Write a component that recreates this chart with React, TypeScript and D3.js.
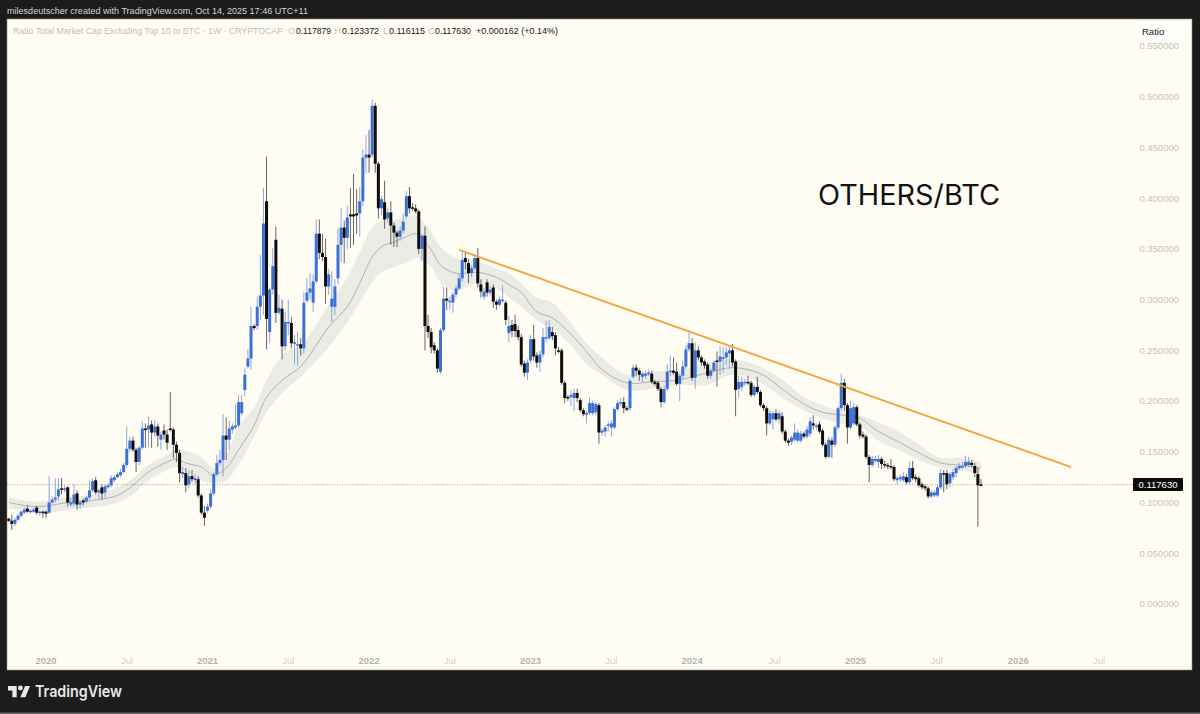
import React from "react";
import * as d3 from "d3";

// All prices are in thousandths of the ratio; one candle per week, index 0 = mid Oct 2019
const opens = [
84,82,79,83,87,90,94,91,91,95, 90,91,91,90,100,103,106,114,113,115,
98,99,109,98,102,101,105,112,122,110, 115,110,115,117,122,125,127,130,137,153,
161,152,140,154,173,172,177,169,175,162, 171,167,173,172,157,149,128,129,118,126,
122,123,107,90,92,96,109,128,139,142, 166,162,172,174,176,188,211,234,242,274,
274,293,304,397,268,310,359,287,291,254, 277,277,257,255,256,252,299,307,297,318,
365,346,342,313,293,293,321,354,371,361, 384,384,385,385,397,440,443,443,491,434,
390,396,380,386,373,366,362,368,382,402, 391,390,387,350,363,274,268,255,250,229,
270,301,298,297,305,311,321,341,336,326, 331,341,315,303,317,307,312,298,295,299,
297,267,275,276,270,263,237,228,240,261, 245,238,246,262,262,268,265,250,250,218,
204,204,203,208,201,191,187,188,188,189, 196,169,170,176,174,174,192,198,199,193,
193,224,233,230,224,225,227,227,219,218, 212,199,212,229,230,229,217,225,234,251,
257,223,250,243,239,236,225,230,240,239, 242,243,247,250,239,212,214,218,219,218,
206,214,209,196,193,178,182,188,182,185, 170,161,160,162,161,161,168,165,168,178,
175,177,171,157,145,161,157,174,193,218, 196,174,178,194,177,167,165,145,137,141,
140,143,138,137,136,135,122,123,122,125, 120,134,125,124,118,116,114,106,107,107,
115,129,129,119,125,129,134,135,136,137, 139,136,128,117.879];
const closes = [
82,79,83,87,91,93,91,92,93,90, 91,90,89,100,103,105,113,113,114,100,
100,108,98,100,100,105,112,121,110,112, 109,116,117,124,125,128,130,137,153,161,
152,140,154,173,172,176,169,175,166,167, 167,159,172,157,149,129,130,117,126,123,
124,107,90,85,96,109,128,139,142,166, 162,173,175,176,199,199,226,242,274,272,
293,304,375,281,310,333,287,292,254,278, 278,257,258,256,252,297,307,311,318,365,
346,342,313,325,301,313,354,371,361,381, 382,382,383,397,440,443,440,491,434,390,
399,379,386,373,366,362,368,377,402,390, 390,387,350,363,274,268,253,250,232,270,
301,299,299,305,311,321,339,337,326,331, 341,316,308,308,307,310,298,295,300,300,
280,274,269,269,263,236,228,238,261,244, 238,246,263,263,273,264,252,249,218,203,
203,206,208,203,191,187,188,198,198,197, 169,171,174,177,178,192,198,199,193,192,
220,233,230,226,227,227,228,219,217,212, 199,212,229,230,228,217,225,234,251,257,
223,250,243,238,235,225,230,238,239,244, 243,248,250,238,211,219,219,219,218,206,
214,209,196,193,178,188,188,182,188,170, 161,159,164,169,169,168,165,172,180,176,
176,170,157,145,162,157,174,193,218,196, 174,193,194,177,166,165,145,137,143,143,
143,138,137,136,135,123,124,125,126,120, 134,124,123,117,115,114,106,110,110,115,
129,128,118,128,130,134,136,136,140,140, 137,129,117,117.63];
const highs = [
85,88,85,89,92,95,97,93,95,97, 92,92,92,126,106,124,124,124,117,116,
105,118,112,102,104,106,122,124,125,114, 118,118,119,127,127,130,133,139,175,165,
165,154,156,180,178,185,181,181,178,170, 177,172,209,174,160,152,135,134,132,132,
128,126,109,97,99,113,130,147,152,187, 184,181,178,197,206,206,233,251,293,276,
303,344,410,441,312,351,372,305,300,288, 300,283,265,268,262,307,321,326,325,379,
379,365,360,330,328,320,370,390,378,393, 410,424,409,411,448,462,467,497,494,436,
402,417,390,397,376,368,372,385,407,411, 395,394,389,365,372,285,272,258,252,272,
313,312,303,307,314,325,347,347,340,334, 345,351,320,312,320,314,315,300,303,314,
299,284,280,285,274,266,240,241,265,275, 248,250,272,279,280,273,268,253,252,220,
206,210,212,212,203,193,190,204,200,199, 198,173,176,180,181,194,201,203,204,195,
222,236,236,232,229,230,231,230,221,220, 214,215,237,245,243,238,227,240,255,270,
262,258,254,245,241,238,232,240,249,254, 253,253,254,256,241,225,224,222,225,220,
216,224,211,198,195,191,190,192,191,189, 172,163,166,178,172,171,170,175,184,186,
178,180,173,159,165,164,176,195,227,222, 198,200,198,196,179,170,167,147,146,146,
147,145,141,139,143,137,126,128,130,128, 140,141,128,126,120,118,116,112,112,117,
133,132,132,130,133,136,139,140,146,145, 142,139,134,123.372];
const lows = [
81,73,77,82,85,89,90,89,90,88, 87,85,85,89,99,100,102,108,110,96,
96,96,93,94,97,99,103,110,108,104, 103,105,113,115,120,124,125,129,135,150,
150,130,137,152,154,155,154,165,155,152, 162,152,170,144,140,120,124,110,114,120,
118,105,88,77,90,94,107,126,137,126, 142,152,168,172,174,186,205,232,231,270,
270,280,285,251,257,305,277,285,241,250, 265,252,236,235,245,247,297,300,288,316,
340,338,296,305,278,285,315,337,336,350, 351,354,365,362,392,425,425,440,425,380,
383,370,376,354,352,352,358,365,380,385, 388,385,345,338,250,262,247,247,228,227,
268,290,290,287,302,309,318,330,316,322, 329,312,302,300,303,304,292,290,293,297,
275,258,263,263,260,234,224,221,238,240, 233,229,243,258,260,260,245,247,216,198,
200,195,190,199,189,185,178,186,186,186, 158,166,165,170,165,172,190,195,188,190,
190,222,225,220,219,222,225,217,215,210, 194,197,210,225,226,215,200,222,232,248,
220,212,240,235,232,222,222,228,214,226, 228,235,232,234,185,204,210,215,216,204,
204,207,194,190,166,176,172,180,178,168, 159,156,157,160,159,159,163,163,165,172,
172,168,155,143,144,144,155,172,190,190, 158,172,176,175,163,163,143,120,135,139,
134,133,134,133,133,121,118,120,120,118, 118,122,120,115,113,112,104,104,105,105,
113,110,113,115,122,125,132,133,134,135, 135,125,76,116.115];

const ribbonIndex = [0,8,13,19,29,35,40,45,51,54,57,62,66,70,74,79,83,89,94,103,109,113,117,120,124,128,131,136,139,144,151,157,161,165,170,175,181,186,191,199,207,216,225,233,242,249,256,262,269,274,280,287,293,300,306,313];
const ribbonUpper = [105,101,102,105,109,115,124,137,147,153,151,145,134,147,175,194,221,248,255,295,322,347,371,377,379,381,383,367,352,341,337,331,326,316,302,297,277,257,243,226,229,231,238,241,234,221,204,196,189,186,179,169,157,144,144,140];
const ribbonMiddle = [100,96,97,100,103,107,117,130,140,143,139,135,127,134,152,176,204,223,234,273,293,316,342,352,357,362,365,349,334,326,327,322,315,307,288,282,266,249,231,218,219,221,228,233,227,212,197,189,186,183,170,159,149,139,137,134];
const ribbonLower = [94,92,90,93,96,100,108,122,132,135,130,122,119,122,137,165,189,211,224,253,278,297,317,327,332,336,341,332,317,309,316,311,302,293,280,271,255,236,226,211,212,216,216,226,218,203,191,183,177,175,161,151,142,134,131,129];

const trendIndex = [145, 342];
const trendValue = [349, 135];

const lastOpen = "0.117879";
const lastHigh = "0.123372";
const lastLow = "0.116115";
const lastClose = "0.117630";
const lastChange = "+0.000162 (+0.14%)";

const yTicks = [550, 500, 450, 400, 350, 300, 250, 200, 150, 100, 50, 0];
const timeLabels = ["2020", "Jul", "2021", "Jul", "2022", "Jul", "2023", "Jul", "2024", "Jul", "2025", "Jul", "2026", "Jul"];
const timeIndex = [12, 38.1, 64, 90, 116, 142, 168, 194, 220, 246.5, 272.6, 298.7, 325, 351];

const UP = "#3b6fd8";
const DOWN = "#0b0b0b";
const PANEL = "#fffdf3";
const SANS = "'Liberation Sans', Arial, sans-serif";

export default function App() {
  const x = d3.scaleLinear().domain([12, 313]).range([46, 981]);
  const y = d3.scaleLinear().domain([0, 550]).range([604, 46]);
  const band = d3.area<number>()
    .x((d) => x(ribbonIndex[d]))
    .y0((d) => y(ribbonLower[d]))
    .y1((d) => y(ribbonUpper[d]))
    .curve(d3.curveCatmullRom);
  const mid = d3.line<number>()
    .x((d) => x(ribbonIndex[d]))
    .y((d) => y(ribbonMiddle[d]))
    .curve(d3.curveCatmullRom);
  const idx = d3.range(ribbonIndex.length);
  const priceY = y(closes[closes.length - 1]);
  return (
    <svg width={1200} height={714} viewBox="0 0 1200 714" style={{ position: "fixed", left: 0, top: 0, display: "block" }} fontFamily={SANS}>
      <defs>
        <clipPath id="plot"><rect x={7} y={19} width={1185} height={651} /></clipPath>
        <filter id="soft" x="-2%" y="-2%" width="104%" height="104%"><feGaussianBlur stdDeviation="0.35" /></filter>
      </defs>
      <rect width={1200} height={714} fill="#1c1c1c" />
      <rect x={0} y={712.5} width={1200} height={1.5} fill="#6a6a6a" />
      <rect x={7} y={19} width={1185} height={651} fill={PANEL} stroke="#8a8a86" strokeWidth={0.6} />
      <text x={7} y={14} fontSize={9.2} fill="#d4d4d4" textLength={301} lengthAdjust="spacingAndGlyphs">milesdeutscher created with TradingView.com, Oct 14, 2025 17:46 UTC+11</text>

      <g clipPath="url(#plot)">
        <g filter="url(#soft)">
          <path d={band(idx) ?? ""} fill="#ebebe5" />
          <path d={mid(idx) ?? ""} fill="none" stroke="#9a9a94" strokeWidth={0.7} />
          <line x1={7} x2={1133} y1={priceY} y2={priceY} stroke="#8f8f85" strokeWidth={0.8} strokeDasharray="1 1.5" />
          {opens.map((o, i) => {
            const c = closes[i];
            const up = c >= o;
            const cx = x(i);
            const top = y(Math.max(o, c));
            const bot = y(Math.min(o, c));
            return (
              <g key={i}>
                <line x1={cx} x2={cx} y1={y(highs[i])} y2={y(lows[i])} stroke={up ? "#7f9bdc" : "#555555"} strokeWidth={0.9} />
                <rect x={cx - 1.5} y={top} width={3} height={Math.max(bot - top, 1.5)} fill={up ? UP : DOWN} />
              </g>
            );
          })}
          <line x1={x(trendIndex[0])} x2={x(trendIndex[1])} y1={y(trendValue[0])} y2={y(trendValue[1])} stroke="#efa63f" strokeWidth={1.9} />
        </g>
      </g>

      <g fontSize={9.3}>
        <text x={13} y={34} fill="#bdbdb5" textLength={270} lengthAdjust="spacingAndGlyphs">Ratio Total Market Cap Excluding Top 10 to BTC · 1W · CRYPTOCAP</text>
        <text x={288} y={34} fill="#c4c4bc">O</text>
        <text x={296} y={34} fill="#151515" textLength={35} lengthAdjust="spacingAndGlyphs">{lastOpen}</text>
        <text x={334.5} y={34} fill="#c4c4bc">H</text>
        <text x={342} y={34} fill="#151515" textLength={37} lengthAdjust="spacingAndGlyphs">{lastHigh}</text>
        <text x={383} y={34} fill="#c4c4bc">L</text>
        <text x={389} y={34} fill="#151515" textLength={36} lengthAdjust="spacingAndGlyphs">{lastLow}</text>
        <text x={428} y={34} fill="#c4c4bc">C</text>
        <text x={435} y={34} fill="#151515" textLength={36} lengthAdjust="spacingAndGlyphs">{lastClose}</text>
        <text x={476} y={34} fill="#151515" textLength={82} lengthAdjust="spacingAndGlyphs">{lastChange}</text>
      </g>

      <rect x={1136} y={22} width={54} height={17} fill="#ffffff" opacity={0.75} />
      <text x={1142} y={34.5} fontSize={9.5} fill="#151515">Ratio</text>
      {yTicks.map((t) => (
        <text key={t} x={1179} y={y(t) + 3.4} fontSize={9.5} textAnchor="end" fill="#c2c2ba">{(t / 1000).toFixed(6)}</text>
      ))}
      <rect x={1133} y={478} width={50} height={13} rx={1} fill="#0b0b0b" />
      <text x={1158} y={488} fontSize={9.5} textAnchor="middle" fill="#ffffff">{lastClose}</text>

      {timeLabels.map((t, i) => (
        <text key={i} x={x(timeIndex[i])} y={664} fontSize={9.5} textAnchor="middle" fill={t === "Jul" ? "#cfcfc7" : "#b4b4ac"} fontWeight={t === "Jul" ? 400 : 700}>{t}</text>
      ))}

      <text x={818} y={205} fontSize={28} fontFamily="Inter, 'Liberation Sans', sans-serif" fill="#111111" textLength={182} lengthAdjust="spacingAndGlyphs">OTHERS/BTC</text>

      <g transform="translate(8,683.6) scale(0.62)" fill="#e8e8e8">
        <path d="M14 22H7V11H0V4h14v18ZM28 22h-8l7.5-18h8L28 22Z" />
        <circle cx={20} cy={7} r={4} />
      </g>
      <text x={35} y={697} fontSize={16.5} fontWeight={600} fontFamily="Inter, 'Liberation Sans', sans-serif" fill="#e8e8e8" textLength={87} lengthAdjust="spacingAndGlyphs">TradingView</text>
    </svg>
  );
}
